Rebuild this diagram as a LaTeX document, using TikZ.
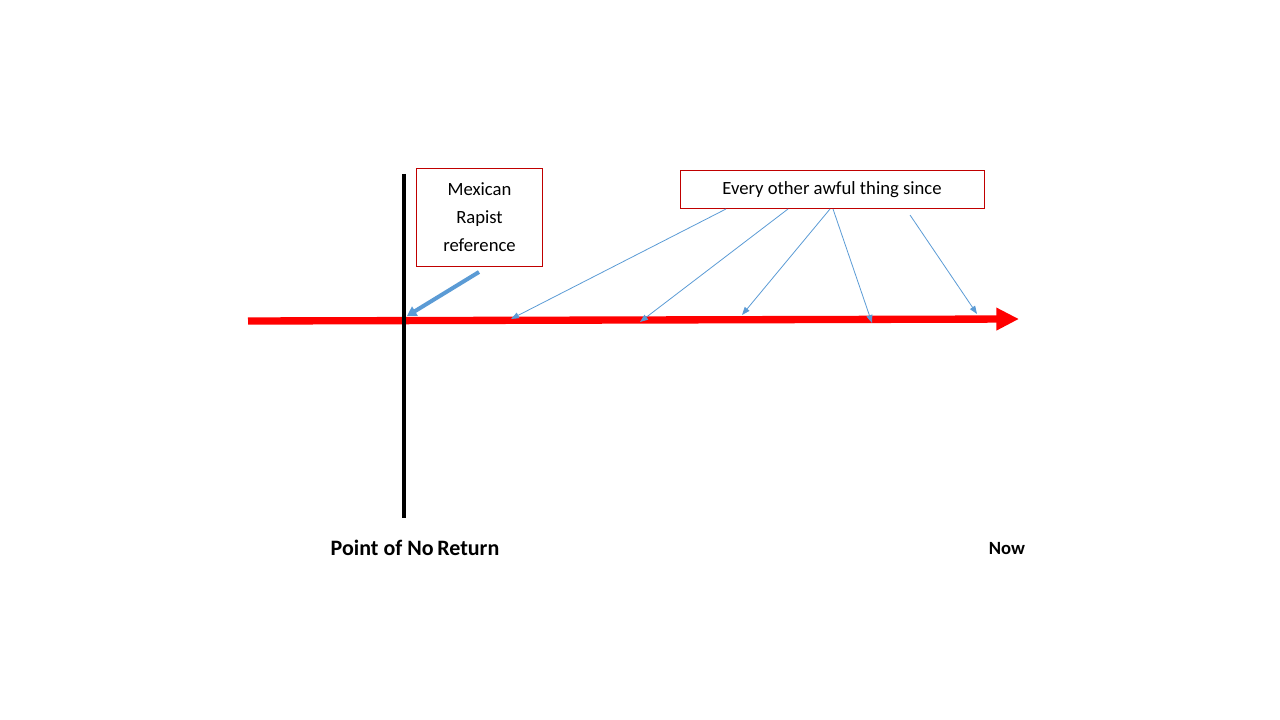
\documentclass[tikz,border=0pt]{standalone}
\usepackage{fontspec}
\setmainfont{Carlito}
\usetikzlibrary{arrows.meta}
\definecolor{bl}{RGB}{91,155,213}
\definecolor{rd}{RGB}{192,0,0}
\tikzset{
 box/.style={draw=rd,fill=white,line width=0.75pt,align=center,inner sep=0pt},
 thin/.style={draw=bl,line width=0.6pt,-{Triangle[length=6pt,width=4.5pt]}},
 lbl/.style={font=\bfseries\fontsize{16.5pt}{19pt}\selectfont}
}
\begin{document}
\begin{tikzpicture}[x=0.75pt,y=-0.75pt]
\useasboundingbox (0,0) rectangle (1280,720);
\coordinate (s) at (248,321);
\coordinate (e) at (1019,319);
\draw[red,line width=5.5pt,-{Triangle[length=17pt,width=16pt]}] (s) -- (e);
\coordinate (vt) at (404,174);
\coordinate (vb) at (404,518);
\draw[black,line width=2.6pt] (vt) -- (vb);
\node[box,minimum width=94pt,minimum height=73pt,font=\fontsize{14pt}{21pt}\selectfont] (m) at (479.5,217.5) {Mexican\\Rapist\\reference};
\node[box,minimum width=228pt,minimum height=28.5pt,font=\fontsize{14pt}{17pt}\selectfont] (ev) at (832,190) {Every other awful thing since};
\coordinate (bs) at (479,272);
\coordinate (be) at (407,316);
\draw[bl,line width=3pt,-{Triangle[length=7pt,width=8pt]}] (bs) -- (be);
\coordinate (a1) at (726,209); \coordinate (b1) at (511,319);
\coordinate (a2) at (788,209); \coordinate (b2) at (640,322);
\coordinate (a3) at (830,209); \coordinate (b3) at (742,315);
\coordinate (a4) at (833,209); \coordinate (b4) at (872,323);
\coordinate (a5) at (910,215); \coordinate (b5) at (977,314);
\foreach \i in {1,...,5} \draw[thin] (a\i) -- (b\i);
\node[lbl] (p) at (415,548) {Point of No\,Return};
\node[font=\bfseries\fontsize{14pt}{17pt}\selectfont] (n) at (1007,549) {Now};
\end{tikzpicture}
\end{document}
